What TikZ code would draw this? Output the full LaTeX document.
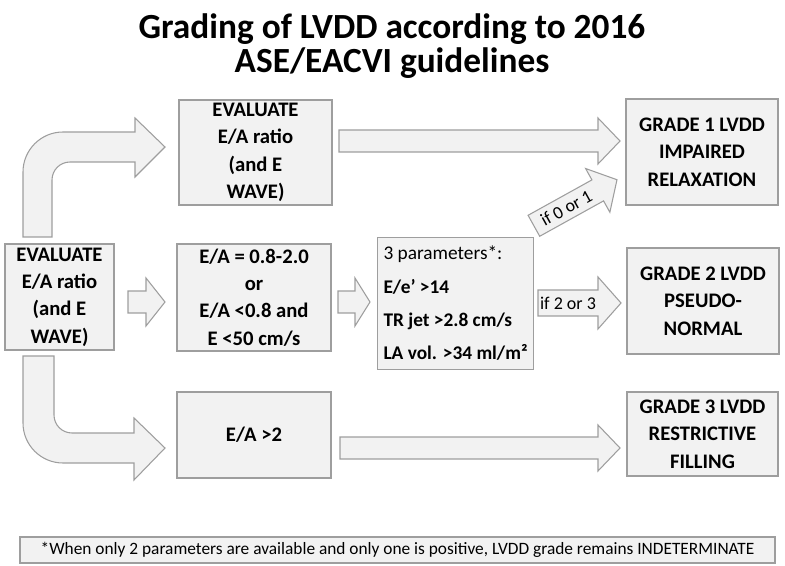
\documentclass[tikz,border=0pt]{standalone}
\usepackage{fontspec}
\setmainfont{Carlito}
\begin{document}
\begin{tikzpicture}[x=0.75pt,y=-0.75pt,
  box/.style={draw=black!38,fill=black!5,line width=0.8pt,align=center,font=\fontsize{15.5}{20.5}\selectfont\bfseries,inner sep=2pt},
  arr/.style={draw=black!38,fill=black!5,line width=0.8pt,line join=miter},
  lab/.style={font=\fontsize{13.5}{15}\selectfont}]
\useasboundingbox (0,0) rectangle (785,566);
\newcommand\rarr[6]{\draw[arr] (#1,#4-#5)--(#2,#4-#5)--(#2,#4-#6)--(#3,#4)--(#2,#4+#6)--(#2,#4+#5)--(#1,#4+#5)--cycle;}
\node[font=\fontsize{26.5}{25}\selectfont\bfseries,align=center] (title) at (392,46) {Grading of LVDD according to 2016\\ASE/EACVI guidelines};
\node[box,minimum width=81.75pt,minimum height=79.5pt] (left) at (59.5,297) {EVALUATE\\E/A ratio\\(and E\\WAVE)};
\node[box,minimum width=114.75pt,minimum height=78.75pt] (topm) at (255.5,152.5) {EVALUATE\\E/A ratio\\(and E\\WAVE)};
\node[box,minimum width=115.5pt,minimum height=80.25pt] (midm) at (254,297.5) {E/A = 0.8-2.0\\or\\E/A <0.8 and\\E <50 cm/s};
\node[box,minimum width=115.5pt,minimum height=64.5pt] (botm) at (254,435) {E/A >2};
\node[box,minimum width=117pt,minimum height=99pt,align=left,font=\fontsize{14.5}{25}\selectfont,anchor=north west,inner xsep=3pt,inner ysep=1pt] (par) at (377,237) {3 parameters*:\\\textbf{E/e’ >14}\\\textbf{TR jet >2.8 cm/s}\\\textbf{LA vol. >34 ml/m²}};
\node[box,minimum width=114pt,minimum height=79.5pt] (g1) at (702,152) {GRADE 1 LVDD\\IMPAIRED\\RELAXATION};
\node[box,minimum width=114pt,minimum height=79.5pt] (g2) at (703,301) {GRADE 2 LVDD\\PSEUDO-\\NORMAL};
\node[box,minimum width=113.25pt,minimum height=63pt] (g3) at (702.5,434) {GRADE 3 LVDD\\RESTRICTIVE\\FILLING};
\node[box,font=\fontsize{13}{15}\selectfont,minimum width=566.25pt,minimum height=19.5pt] (foot) at (397.5,550) {*When only 2 parameters are available and only one is positive, LVDD grade remains INDETERMINATE};
% curved arrows
\draw[arr] (23,237)--(23,172) arc(180:270:40) -- (135,132) -- (135,118) -- (165,147) -- (135,177) -- (135,162) -- (70,162) arc(270:180:18) -- (52,237) -- cycle;
\draw[arr] (23,356)--(23,423) arc(180:90:40) -- (134,463) -- (134,480) -- (165,448) -- (134,418) -- (134,433) -- (72,433) arc(90:180:18) -- (54,356) -- cycle;
% straight arrows
\rarr{128}{146}{165}{302}{11}{24}
\rarr{338}{355}{370}{302}{11}{24}
\rarr{339}{598}{620}{141}{11}{23}
\rarr{340}{598}{620}{448}{11}{23}
\rarr{538}{598}{621}{303}{13}{26}
\node[lab] (l23) at (568,303) {if 2 or 3};
\begin{scope}[shift={(575,203)},rotate=29]
\draw[arr] (-47,-12)--(26,-12)--(26,-25)--(48,0)--(26,25)--(26,12)--(-47,12)--cycle;
\node[lab,rotate=29,inner sep=0pt] (l01) at (-10,0) {if 0 or 1};
\end{scope}
\end{tikzpicture}
\end{document}
